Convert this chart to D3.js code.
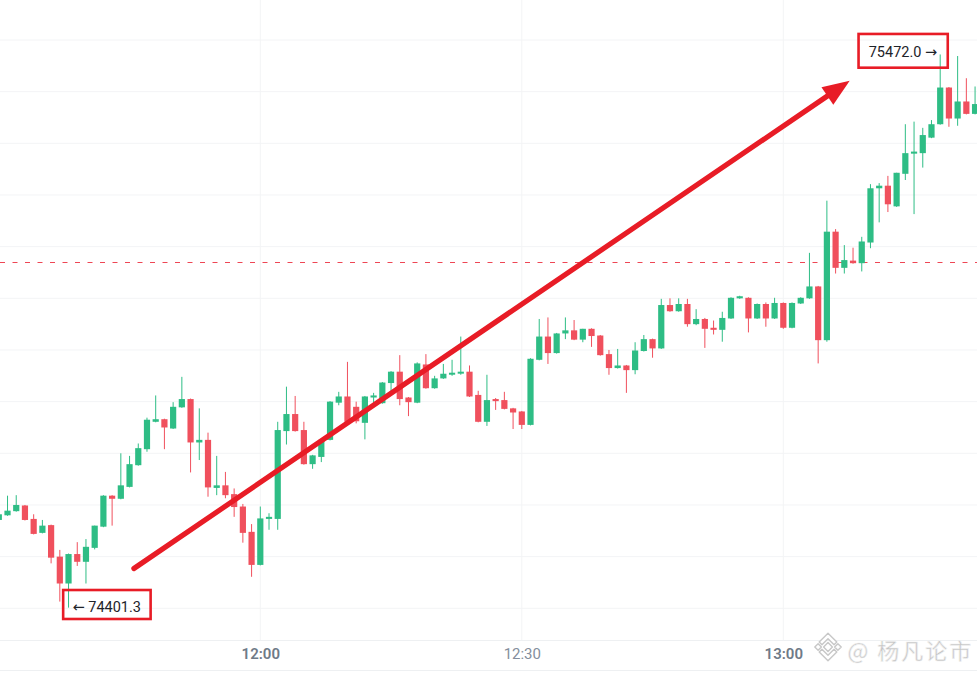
<!DOCTYPE html>
<html>
<head>
<meta charset="utf-8">
<script src="https://cdn.jsdelivr.net/npm/d3@7"></script>
<style>
  html, body { margin: 0; padding: 0; background: #fff; }
  svg { display: block; }
</style>
</head>
<body>
<div id="chart-area"></div>
<script>
// 1-minute candles, first one at 11:30
var startTime = "11:30";

var open = [74571, 74580, 74588, 74599, 74573, 74546, 74561, 74500, 74448, 74505,
    74490, 74517, 74558, 74618, 74612, 74635, 74677, 74708, 74761, 74766,
    74748, 74789, 74805, 74721, 74726, 74633, 74638, 74621, 74597, 74548,
    74484, 74573, 74573, 74743, 74776, 74745, 74679, 74693, 74726, 74798,
    74810, 74790, 74759, 74808, 74797, 74836, 74858, 74808, 74798, 74872,
    74826, 74845, 74853, 74855, 74858, 74813, 74761, 74805, 74803, 74787,
    74781, 74755, 74881, 74926, 74894, 74932, 74938, 74920, 74941, 74928,
    74892, 74865, 74870, 74861, 74898, 74921, 74903, 74987, 74975, 74989,
    74950, 74960, 74943, 74939, 74961, 75000, 75001, 74961, 74989, 74961,
    74991, 74943, 74990, 75000, 75023, 74919, 75129, 75059, 75073, 75068,
    75108, 75213, 75218, 75178, 75241, 75280, 75281, 75311, 75337, 75408,
    75348, 75381, 75357];

var high = [74586, 74618, 74619, 74600, 74582, 74571, 74562, 74513, 74506, 74528,
    74534, 74560, 74619, 74619, 74700, 74695, 74719, 74769, 74812, 74767,
    74799, 74848, 74806, 74787, 74740, 74695, 74664, 74632, 74602, 74563,
    74597, 74584, 74761, 74829, 74811, 74761, 74697, 74727, 74801, 74819,
    74877, 74800, 74811, 74817, 74838, 74859, 74890, 74809, 74876, 74892,
    74850, 74873, 74881, 74926, 74870, 74821, 74852, 74807, 74819, 74788,
    74782, 74884, 74960, 74963, 74933, 74963, 74958, 74941, 74942, 74929,
    74900, 74902, 74871, 74915, 74929, 74922, 74999, 75000, 75000, 74999,
    74979, 74962, 74957, 74974, 75002, 75005, 75002, 74990, 74992, 75001,
    74992, 74992, 75002, 75088, 75024, 75189, 75134, 75103, 75098, 75119,
    75221, 75223, 75237, 75243, 75337, 75342, 75330, 75345, 75472.0, 75409,
    75469, 75426, 75410];

var low = [74567, 74579, 74587, 74570, 74543, 74545, 74487, 74413, 74401.3, 74482,
    74448, 74514, 74557, 74560, 74611, 74634, 74676, 74703, 74760, 74708,
    74747, 74788, 74663, 74687, 74616, 74619, 74613, 74577, 74527, 74461,
    74483, 74552, 74552, 74717, 74742, 74678, 74670, 74683, 74725, 74793,
    74760, 74758, 74727, 74792, 74796, 74819, 74793, 74772, 74797, 74825,
    74825, 74844, 74850, 74852, 74809, 74760, 74753, 74784, 74785, 74747,
    74747, 74754, 74880, 74873, 74893, 74921, 74919, 74915, 74906, 74889,
    74852, 74864, 74817, 74853, 74897, 74885, 74902, 74974, 74974, 74945,
    74948, 74904, 74930, 74916, 74960, 74999, 74934, 74960, 74945, 74960,
    74941, 74942, 74989, 74999, 74874, 74916, 75048, 75048, 75067, 75052,
    75097, 75147, 75167, 75177, 75229, 75163, 75253, 75310, 75336, 75332,
    75334, 75356, 75356];

var close = [74582, 74589, 74600, 74571, 74544, 74560, 74498, 74448, 74505, 74490,
    74519, 74560, 74618, 74612, 74638, 74679, 74710, 74765, 74766, 74750,
    74790, 74805, 74721, 74726, 74634, 74638, 74619, 74596, 74546, 74484,
    74574, 74577, 74745, 74776, 74743, 74679, 74696, 74726, 74800, 74810,
    74761, 74762, 74810, 74812, 74837, 74858, 74805, 74799, 74874, 74826,
    74845, 74854, 74856, 74858, 74810, 74761, 74803, 74801, 74786, 74779,
    74755, 74883, 74926, 74894, 74932, 74938, 74920, 74941, 74927, 74890,
    74865, 74870, 74861, 74899, 74921, 74903, 74987, 74975, 74989, 74950,
    74960, 74941, 74939, 74962, 75001, 75004, 74961, 74989, 74961, 74991,
    74943, 74991, 75001, 75023, 74919, 75129, 75059, 75074, 75068, 75110,
    75213, 75218, 75182, 75243, 75281, 75284, 75316, 75337, 75408, 75348,
    75381, 75357, 75376];

var tickTimes = ["12:00", "12:30", "13:00"];
var priceLines = [74400, 74500, 74600, 74700, 74800, 74900, 75000, 75100, 75200, 75300, 75400, 75500];
var lastPrice = 75070.9;

// hand drawn annotations (time, price)
var arrowFrom = ["11:45:30", 74477];
var arrowTo = ["13:07:37", 75421];
var lowBox = [["11:37:23", 74435.4], ["11:47:25", 74379.3]];
var highBox = [["13:08:38", 75511.7], ["13:18:52", 75446.4]];

var width = 977, height = 673;
var up = "#2ebd85", down = "#f0505d", annot = "#e81c26";

var parseHM = d3.timeParse("%H:%M");
var parseHMS = d3.timeParse("%H:%M:%S");
var t0 = parseHM(startTime);

var candles = open.map(function (o, i) {
    return { t: d3.timeMinute.offset(t0, i), o: o, h: high[i], l: low[i], c: close[i] };
});

var x = d3.scaleTime()
    .domain([parseHM("12:00"), parseHM("13:00")])
    .range([260.3, 783.3]);

var y = d3.scaleLinear()
    .domain([74400, 75500])
    .range([608.3, 40]);

var svg = d3.select("#chart-area")
    .append("svg")
    .attr("width", width)
    .attr("height", height);

// grid
svg.append("g").selectAll("line")
    .data(priceLines)
    .enter().append("line")
    .attr("x1", 0).attr("x2", width)
    .attr("y1", function (d) { return y(d) })
    .attr("y2", function (d) { return y(d) })
    .attr("stroke", "#f3f4f6");

svg.append("g").selectAll("line")
    .data(tickTimes)
    .enter().append("line")
    .attr("x1", function (d) { return x(parseHM(d)) })
    .attr("x2", function (d) { return x(parseHM(d)) })
    .attr("y1", 0).attr("y2", 640.5)
    .attr("stroke", "#f3f4f6");

svg.append("line")
    .attr("x1", 0).attr("x2", width)
    .attr("y1", 640.5).attr("y2", 640.5)
    .attr("stroke", "#eef0f2");
svg.append("line")
    .attr("x1", 0).attr("x2", width)
    .attr("y1", 670.5).attr("y2", 670.5)
    .attr("stroke", "#eef0f2");

// x axis
var xAxisCall = d3.axisBottom(x)
    .tickValues(tickTimes.map(parseHM))
    .tickFormat(d3.timeFormat("%H:%M"))
    .tickSize(0)
    .tickPadding(8);
var xAxis = svg.append("g")
    .attr("transform", "translate(0,640.5)")
    .call(xAxisCall);
xAxis.select(".domain").remove();
xAxis.selectAll("text")
    .attr("font-family", "Roboto, 'Noto Sans', sans-serif")
    .attr("font-size", "15px")
    .attr("font-weight", function (d) { return d.getMinutes() === 0 ? 600 : 400 })
    .attr("fill", function (d) { return d.getMinutes() === 0 ? "#6f7a87" : "#848e9c" });

// last price line
svg.append("line")
    .attr("x1", 0).attr("x2", width)
    .attr("y1", Math.round(y(lastPrice)) + 0.5)
    .attr("y2", Math.round(y(lastPrice)) + 0.5)
    .attr("stroke", "#ee4655")
    .attr("stroke-width", 1)
    .attr("stroke-dasharray", "5,7.5");

// candles
var bodyW = 6.2;
var g = svg.append("g");
var cg = g.selectAll("g")
    .data(candles)
    .enter().append("g")
    .attr("fill", function (d) { return d.c >= d.o ? up : down })
    .attr("stroke", function (d) { return d.c >= d.o ? up : down });

cg.append("line")
    .attr("x1", function (d) { return x(d.t) })
    .attr("x2", function (d) { return x(d.t) })
    .attr("y1", function (d) { return y(d.h) })
    .attr("y2", function (d) { return y(d.l) })
    .attr("stroke-width", 1);

cg.append("rect")
    .attr("stroke", "none")
    .attr("x", function (d) { return x(d.t) - bodyW / 2 })
    .attr("width", bodyW)
    .attr("y", function (d) { return y(Math.max(d.o, d.c)) })
    .attr("height", function (d) {
        return Math.max(2, Math.abs(y(d.o) - y(d.c)))
    });

// high / low markers
var hiIdx = d3.maxIndex(candles, function (d) { return d.h });
var loIdx = d3.minIndex(candles, function (d) { return d.l });
var fmt = d3.format(".1f");

svg.append("text")
    .attr("x", x(candles[hiIdx].t) - 3)
    .attr("y", y(candles[hiIdx].h) - 2)
    .attr("text-anchor", "end")
    .attr("dominant-baseline", "central")
    .attr("font-family", "Roboto, 'DejaVu Sans', sans-serif")
    .attr("font-size", "14.5px")
    .attr("fill", "#1e2329")
    .text(fmt(candles[hiIdx].h) + " \u2192");

svg.append("text")
    .attr("x", x(candles[loIdx].t) + 4)
    .attr("y", y(candles[loIdx].l) - 0.5)
    .attr("text-anchor", "start")
    .attr("dominant-baseline", "central")
    .attr("font-family", "Roboto, 'DejaVu Sans', sans-serif")
    .attr("font-size", "14.5px")
    .attr("fill", "#1e2329")
    .text("\u2190 " + fmt(candles[loIdx].l));

// annotation boxes
[lowBox, highBox].forEach(function (b) {
    var x1 = x(parseHMS(b[0][0])), x2 = x(parseHMS(b[1][0]));
    var y1 = y(b[0][1]), y2 = y(b[1][1]);
    svg.append("rect")
        .attr("x", x1).attr("y", y1)
        .attr("width", x2 - x1).attr("height", y2 - y1)
        .attr("fill", "none")
        .attr("stroke", annot)
        .attr("stroke-width", 2.6);
});

// annotation arrow
var ax1 = x(parseHMS(arrowFrom[0])), ay1 = y(arrowFrom[1]);
var ax2 = x(parseHMS(arrowTo[0])), ay2 = y(arrowTo[1]);
var len = Math.hypot(ax2 - ax1, ay2 - ay1);
var ux = (ax2 - ax1) / len, uy = (ay2 - ay1) / len;
var headL = 27, headW = 10.5;
var bx = ax2 - ux * headL, by = ay2 - uy * headL;

svg.append("line")
    .attr("x1", ax1).attr("y1", ay1)
    .attr("x2", bx + ux * 4).attr("y2", by + uy * 4)
    .attr("stroke", annot)
    .attr("stroke-width", 5.2)
    .attr("stroke-linecap", "round");

svg.append("path")
    .attr("d", "M" + ax2 + "," + ay2 +
        "L" + (bx - uy * headW) + "," + (by + ux * headW) +
        "L" + (bx + uy * headW) + "," + (by - ux * headW) + "Z")
    .attr("fill", annot);

// watermark
var wm = svg.append("g").attr("transform", "translate(828,647) scale(1.1)");
var logo = [
    "M0,-4L4,0L0,4L-4,0Z",
    "M-9,-3L-6,0L-9,3L-12,0Z",
    "M9,-3L12,0L9,3L6,0Z",
    "M-8,-4.5L0,-12.5L8,-4.5L5.5,-2L0,-7.5L-5.5,-2Z",
    "M-8,4.5L0,12.5L8,4.5L5.5,2L0,7.5L-5.5,2Z"
];
wm.selectAll("path")
    .data(logo)
    .enter().append("path")
    .attr("d", function (d) { return d })
    .attr("fill", "#fff")
    .attr("stroke", "#c8c8c8")
    .attr("stroke-width", 1.3)
    .attr("stroke-linejoin", "round");

svg.append("text")
    .attr("x", 847.5)
    .attr("y", 659)
    .attr("font-family", "'Noto Sans CJK SC', sans-serif")
    .attr("font-size", "22px")
    .attr("letter-spacing", "2px")
    .attr("fill", "#c4c4c4")
    .attr("stroke", "#f2f2f2")
    .attr("stroke-width", 0.6)
    .text("@ 杨凡论市");
</script>
</body>
</html>
